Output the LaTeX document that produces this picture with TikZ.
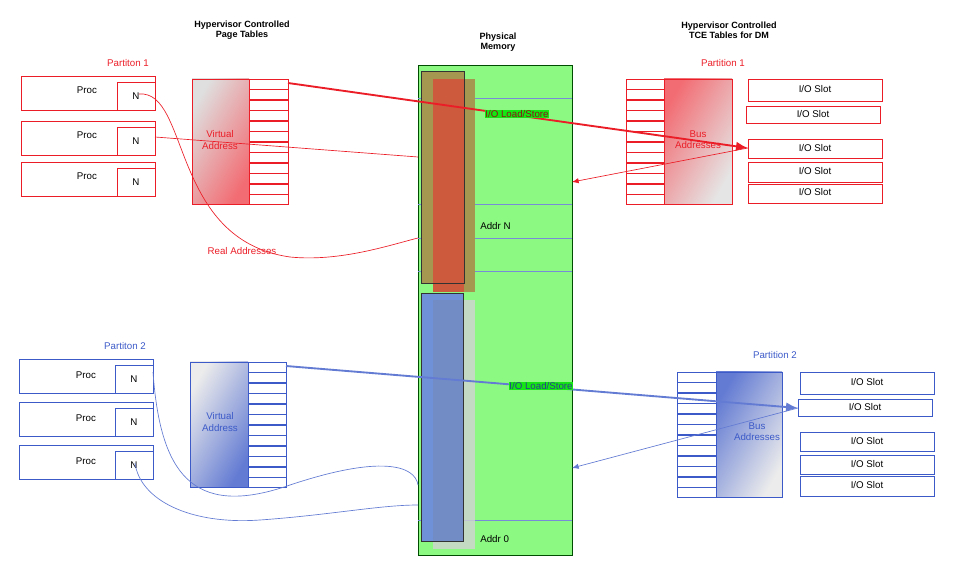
\documentclass[tikz,border=0pt]{standalone}
\usepackage{fontspec}
\setmainfont{Liberation Sans}
\usetikzlibrary{arrows.meta}
\definecolor{rd}{RGB}{235,30,40}
\definecolor{bl}{RGB}{60,90,200}
\definecolor{gr}{RGB}{140,250,130}
\definecolor{olv}{RGB}{165,150,80}
\definecolor{rbr}{RGB}{205,90,60}
\definecolor{mb}{RGB}{110,145,215}
\definecolor{lbl}{RGB}{20,230,20}
\tikzset{
  txt/.style={font=\fontsize{7.3}{8.3}\selectfont, inner sep=0pt, align=center},
  hdr/.style={txt, font=\fontsize{6.8}{7.8}\selectfont\bfseries},
  rbox/.style={draw=rd, fill=white, line width=0.6pt},
  bbox/.style={draw=bl, fill=white, line width=0.6pt},
}
\begin{document}
\begin{tikzpicture}[x=0.75pt,y=-0.75pt]
\useasboundingbox (0,0) rectangle (957,570);
% headers
\node[hdr] (h1) at (242,30) {Hypervisor Controlled\\Page Tables};
\node[hdr] (h2) at (498,42) {Physical\\Memory};
\node[hdr] (h3) at (729,30) {Hypervisor Controlled\\TCE Tables for DM};
% physical memory
\draw[fill=gr, draw=black!70!green, line width=0.6pt] (418,65) rectangle (572,555);
\foreach \y in {98,204,238,271,520} \draw[bl!70, line width=0.4pt] (418,\y) -- (572,\y);
\fill[fill=olv] (421,71) rectangle (464,283);
\fill[fill=rbr] (433,79) rectangle (475,292);
\fill[fill=olv] (464,79) rectangle (475,292);
\draw[black!80, line width=0.7pt] (421,71) rectangle (464,283);
\fill[fill=gray!35, opacity=0.8] (433,300) rectangle (475,549);
\fill[fill=mb] (421,293) rectangle (463,541);
\fill[fill=mb!80!gray] (433,300) rectangle (463,541);
\draw[black!80, line width=0.7pt] (421,293) rectangle (463,541);
\node[txt, anchor=west] (an) at (480,226) {Addr N};
\node[txt, anchor=west] (a0) at (480,539) {Addr 0};
% ---------- Partition 1 left
\node[txt, text=rd] (p1) at (128,63) {Partiton 1};
\foreach \i/\y in {1/76,2/121,3/162}{
  \draw[rbox] (21,\y) rectangle (155,\y+34);
  \draw[rbox] (117,\y+6) rectangle (155,\y+34);
  \node[txt] (pr\i) at (87,\y+14) {Proc};
  \node[txt] (n\i) at (136,\y+20) {N};
}
\shade[left color=gray!25, right color=rd!65, shading angle=60] (192,79) rectangle (249,204);
\draw[rd, line width=0.6pt] (192,79) rectangle (249,204);
\node[txt, text=rd] (va1) at (220,140) {Virtual\\Address};
\foreach \k in {0,...,5}{
  \draw[rbox] (249,79+\k*21) rectangle (288,79+\k*21+10);
  \draw[rbox] (249,79+\k*21+10) rectangle (288,79+\k*21+20);
}
% ---------- Partition 1 right
\node[txt, text=rd] (q1) at (723,63) {Partition 1};
\shade[left color=rd!65, right color=gray!20, shading angle=60] (664,79) rectangle (732,204);
\draw[rd, line width=0.6pt] (664,79) rectangle (732,204);
\node[txt, text=rd] (ba1) at (698,140) {Bus\\Addresses};
\foreach \k in {0,...,5}{
  \draw[rbox] (626,79+\k*21) rectangle (664,79+\k*21+10);
  \draw[rbox] (626,79+\k*21+10) rectangle (664,79+\k*21+20);
}
\draw[rbox] (748,79) rectangle (882,101); \node[txt] (s11) at (815,89) {I/O Slot};
\draw[rbox] (746,106) rectangle (880,123); \node[txt] (s12) at (813,114) {I/O Slot};
\draw[rbox] (748,139) rectangle (882,158); \node[txt] (s13) at (815,148) {I/O Slot};
\draw[rbox] (748,162) rectangle (882,182); \node[txt] (s14) at (815,171) {I/O Slot};
\draw[rbox] (748,184) rectangle (882,203); \node[txt] (s15) at (815,192) {I/O Slot};
\coordinate (t1) at (288,83);
\coordinate (s13w) at (748,148);
\coordinate (m1) at (572,182);
\draw[rd, line width=1.4pt, -{Latex[length=9pt,width=7pt]}] (t1) -- (s13w);
\node[txt, fill=lbl, text=rd!60!black, inner sep=0.5pt] (ls1) at (517,114) {I/O Load/Store};
\draw[rd, line width=0.5pt, -{Latex[length=5pt,width=4pt]}] (s13w) -- (m1);
\coordinate (m2) at (418,157);
\coordinate (m3) at (418,238);
\draw[rd, line width=0.5pt] (155,137) -- (m2);
\draw[rd, line width=0.5pt] (139,94) .. controls (190,90) and (170,240) .. (290,257) .. controls (340,262) and (390,245) .. (m3);
\node[txt, text=rd] (ra) at (242,251) {Real Addresses};
% ---------- Partition 2 left
\node[txt, text=bl] (p2) at (125,346) {Partiton 2};
\foreach \i/\y in {1/359,2/402,3/445}{
  \draw[bbox] (19,\y) rectangle (153,\y+34);
  \draw[bbox] (115,\y+6) rectangle (153,\y+34);
  \node[txt] (pp\i) at (86,\y+16) {Proc};
  \node[txt] (nn\i) at (134,\y+20) {N};
}
\shade[left color=gray!15, right color=bl!80, shading angle=60] (190,362) rectangle (248,487);
\draw[bl, line width=0.6pt] (190,362) rectangle (248,487);
\node[txt, text=bl] (va2) at (220,422) {Virtual\\Address};
\foreach \k in {0,...,5}{
  \draw[bbox] (248,362+\k*21) rectangle (286,362+\k*21+10);
  \draw[bbox] (248,362+\k*21+10) rectangle (286,362+\k*21+20);
}
% ---------- Partition 2 right
\node[txt, text=bl] (q2) at (775,355) {Partition 2};
\shade[left color=bl!80, right color=gray!15, shading angle=60] (716,372) rectangle (782,497);
\draw[bl, line width=0.6pt] (716,372) rectangle (782,497);
\node[txt, text=bl] (ba2) at (757,432) {Bus\\Addresses};
\foreach \k in {0,...,5}{
  \draw[bbox] (677,372+\k*21) rectangle (716,372+\k*21+10);
  \draw[bbox] (677,372+\k*21+10) rectangle (716,372+\k*21+20);
}
\draw[bbox] (800,372) rectangle (934,394); \node[txt] (s21) at (867,382) {I/O Slot};
\draw[bbox] (798,399) rectangle (932,416); \node[txt] (s22) at (865,407) {I/O Slot};
\draw[bbox] (800,432) rectangle (934,451); \node[txt] (s23) at (867,441) {I/O Slot};
\draw[bbox] (800,455) rectangle (934,474); \node[txt] (s24) at (867,464) {I/O Slot};
\draw[bbox] (800,476) rectangle (934,496); \node[txt] (s25) at (867,485) {I/O Slot};
\coordinate (t2) at (286,366);
\coordinate (s22w) at (798,408);
\coordinate (m4) at (572,468);
\draw[bl!80, line width=1.4pt, -{Latex[length=9pt,width=7pt]}] (t2) -- (s22w);
\node[txt, fill=lbl, text=bl!70!black, inner sep=0.5pt] (ls2) at (541,386) {I/O Load/Store};
\draw[bl!80, line width=0.5pt, -{Latex[length=5pt,width=4pt]}] (s22w) -- (m4);
\coordinate (m5) at (418,485);
\coordinate (m6) at (418,505);
\draw[bl!80, line width=0.5pt] (153,372) .. controls (160,470) and (190,520) .. (290,485) .. controls (380,455) and (415,465) .. (m5);
\draw[bl!80, line width=0.5pt] (135,463) .. controls (140,500) and (190,525) .. (260,520) .. controls (330,515) and (380,505) .. (m6);
\end{tikzpicture}
\end{document}
